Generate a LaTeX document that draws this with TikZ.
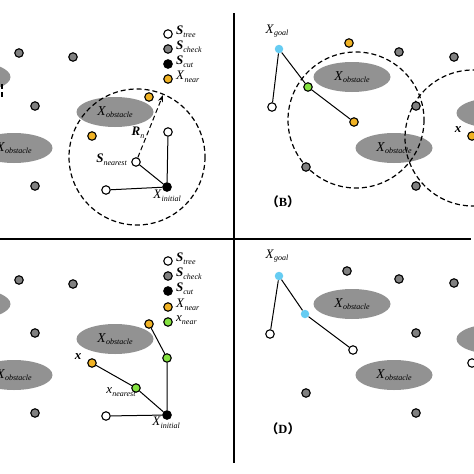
\documentclass[tikz,border=0pt]{standalone}
\usepackage{fontspec}
\setmainfont{Liberation Serif}
\newfontfamily\cjk{Noto Sans CJK SC}
\usetikzlibrary{arrows.meta,shapes.geometric}
\definecolor{nearorange}{RGB}{240,178,36}
\definecolor{newgreen}{RGB}{132,226,64}
\definecolor{goalcyan}{RGB}{102,204,242}
\definecolor{obstgray}{RGB}{146,146,146}
\definecolor{checkgray}{RGB}{128,128,128}
% label with a lowered subscript
\newcommand{\lbl}[2]{\textit{#1}\raisebox{-2.6pt}{\fontsize{8}{8}\selectfont\itshape #2}}
\newcommand{\blbl}[2]{\textit{\textbf{#1}}\raisebox{-2.6pt}{\fontsize{8}{8}\selectfont\itshape #2}}
\tikzset{
  dot/.style={circle, draw=black, line width=1.1pt, minimum size=8.5pt, inner sep=0pt},
  treedot/.style={dot, fill=white},
  checkdot/.style={dot, fill=checkgray},
  cutdot/.style={dot, fill=black},
  neardot/.style={dot, fill=nearorange},
  newdot/.style={dot, fill=newgreen},
  goaldot/.style={circle, fill=goalcyan, minimum size=8.5pt, inner sep=0pt},
  obst/.style={ellipse, fill=obstgray, minimum width=77pt, minimum height=30pt, inner sep=0pt, font=\fontsize{13.5}{14}\selectfont},
  conn/.style={line width=1pt},
  rng/.style={line width=1.2pt, dash pattern=on 5pt off 3pt},
  txt/.style={inner sep=0pt, font=\fontsize{13}{14}\selectfont},
  tag/.style={inner sep=0pt, font=\fontsize{12.5}{13}\selectfont\bfseries}
}
\begin{document}
\begin{tikzpicture}[x=1pt,y=-1pt]
\useasboundingbox (0,0) rectangle (474,474);
% dividers
\draw[line width=1.3pt] (234,13) -- (234,463);
\draw[line width=1.3pt] (0,239) -- (471,239);

% ---------- panel A ----------
\node[obst] (obA0) at (-28,77) {\lbl{X}{obstacle}};
\node[obst] (obA1) at (14,148) {\lbl{X}{obstacle}};
\node[obst] (obA2) at (115,112) {\lbl{X}{obstacle}};
\coordinate (cA) at (137,157);
\draw[rng] (cA) circle (68);
\draw[rng] (2,84) -- (2,98);
\node[checkdot] (a1) at (19,53) {};
\node[checkdot] (a2) at (73,57) {};
\node[checkdot] (a3) at (35,106) {};
\node[checkdot] (a4) at (35,186) {};
\node[neardot] (aN1) at (149,97) {};
\node[neardot] (aN2) at (92,136) {};
\node[treedot] (aT1) at (168,132) {};
\node[treedot] (aS) at (136,162) {};
\node[treedot] (aT2) at (106,190) {};
\node[cutdot] (aI) at (167,187) {};
\coordinate (aR) at (163,95);
\draw[conn] (aI) -- (aS);
\draw[conn] (aI) -- (aT1);
\draw[conn] (aI) -- (aT2);
\draw[rng, line width=1pt, -{Stealth[length=7pt,width=5pt]}] (aS) -- (aR);
\node[txt, anchor=east] (aSl) at (127,160) {\blbl{S}{nearest}};
\node[txt] (aRl) at (138,133) {\blbl{R}{n}};
\node[txt] (aIl) at (167,196) {\lbl{X}{initial}};
% legend A
\node[treedot] (ak1) at (168,34) {};
\node[checkdot] (ak2) at (168,49) {};
\node[cutdot] (ak3) at (168,64) {};
\node[neardot] (ak4) at (168,79) {};
\node[txt, anchor=west] (akl1) at (176,32) {\blbl{S}{tree}};
\node[txt, anchor=west] (akl2) at (176,47) {\blbl{S}{check}};
\node[txt, anchor=west] (akl3) at (176,62) {\blbl{S}{cut}};
\node[txt, anchor=west] (akl4) at (176,77) {\lbl{X}{near}};

% ---------- panel B ----------
\node[obst] (obB1) at (352,77) {\lbl{X}{obstacle}};
\node[obst] (obB2) at (394,148) {\lbl{X}{obstacle}};
\node[obst] (obB3) at (495,113) {\lbl{X}{obstacle}};
\coordinate (cB1) at (356,120);
\coordinate (cB2) at (473,138);
\draw[rng] (cB1) circle (68);
\draw[rng] (cB2) circle (68);
\node[checkdot] (b1) at (399,52) {};
\node[checkdot] (b2) at (454,57) {};
\node[checkdot] (b3) at (416,106) {};
\node[checkdot] (b4) at (306,167) {};
\node[checkdot] (b5) at (416,186) {};
\node[neardot] (bN1) at (349,43) {};
\node[neardot] (bN2) at (354,122) {};
\node[neardot] (bN3) at (472,136) {};
\node[goaldot] (bG) at (279,49) {};
\node[treedot] (bT) at (272,107) {};
\node[newdot] (bW) at (308,87) {};
\draw[conn] (bG) -- (bT);
\draw[conn] (bG) -- (bW) -- (bN2);
\node[txt] (bGl) at (277,31) {\lbl{X}{goal}};
\node[txt] (bxl) at (458,130) {\textit{\textbf{x}}};
\node[tag] (bTag) at (283,202) {{\cjk （}B{\cjk ）}};

% ---------- panel C ----------
\node[obst] (obC0) at (-28,304) {\lbl{X}{obstacle}};
\node[obst] (obC1) at (14,375) {\lbl{X}{obstacle}};
\node[obst] (obC2) at (115,339) {\lbl{X}{obstacle}};
\node[checkdot] (c1) at (19,280) {};
\node[checkdot] (c2) at (73,284) {};
\node[checkdot] (c3) at (35,333) {};
\node[checkdot] (c4) at (35,413) {};
\node[neardot] (cN1) at (149,324) {};
\node[neardot] (cN2) at (92,363) {};
\node[newdot] (cW1) at (167,358) {};
\node[newdot] (cW2) at (136,388) {};
\node[cutdot] (cI) at (167,415) {};
\node[treedot] (cT) at (106,416) {};
\draw[conn] (cI) -- (cT);
\draw[conn] (cI) -- (cW2) -- (cN2);
\draw[conn] (cI) -- (cW1) -- (cN1);
\node[txt] (cxl) at (78,357) {\textit{\textbf{x}}};
\node[txt] (cWl) at (121,392) {\lbl{x}{nearest}};
\node[txt] (cIl) at (166,423) {\lbl{X}{initial}};
% legend C
\node[treedot] (ck1) at (168,261) {};
\node[checkdot] (ck2) at (168,276) {};
\node[cutdot] (ck3) at (168,291) {};
\node[neardot] (ck4) at (168,307) {};
\node[newdot] (ck5) at (168,322) {};
\node[txt, anchor=west] (ckl1) at (176,259) {\blbl{S}{tree}};
\node[txt, anchor=west] (ckl2) at (176,274) {\blbl{S}{check}};
\node[txt, anchor=west] (ckl3) at (176,289) {\blbl{S}{cut}};
\node[txt, anchor=west] (ckl4) at (176,305) {\lbl{X}{near}};
\node[txt, anchor=west] (ckl5) at (176,320) {\lbl{x}{near}};

% ---------- panel D ----------
\node[obst] (obD1) at (352,304) {\lbl{X}{obstacle}};
\node[obst] (obD2) at (394,375) {\lbl{X}{obstacle}};
\node[obst] (obD3) at (495,339) {\lbl{X}{obstacle}};
\node[checkdot] (d1) at (347,271) {};
\node[checkdot] (d2) at (399,279) {};
\node[checkdot] (d3) at (454,283) {};
\node[checkdot] (d4) at (416,333) {};
\node[checkdot] (d5) at (306,393) {};
\node[checkdot] (d6) at (416,413) {};
\node[goaldot] (dG) at (279,276) {};
\node[goaldot] (dG2) at (305,314) {};
\node[treedot] (dT1) at (270,334) {};
\node[treedot] (dT2) at (353,350) {};
\node[treedot] (dT3) at (472,363) {};
\draw[conn] (dG) -- (dT1);
\draw[conn] (dG) -- (dG2) -- (dT2);
\node[txt] (dGl) at (277,256) {\lbl{X}{goal}};
\node[tag] (dTag) at (283,429) {{\cjk （}D{\cjk ）}};
\end{tikzpicture}
\end{document}
